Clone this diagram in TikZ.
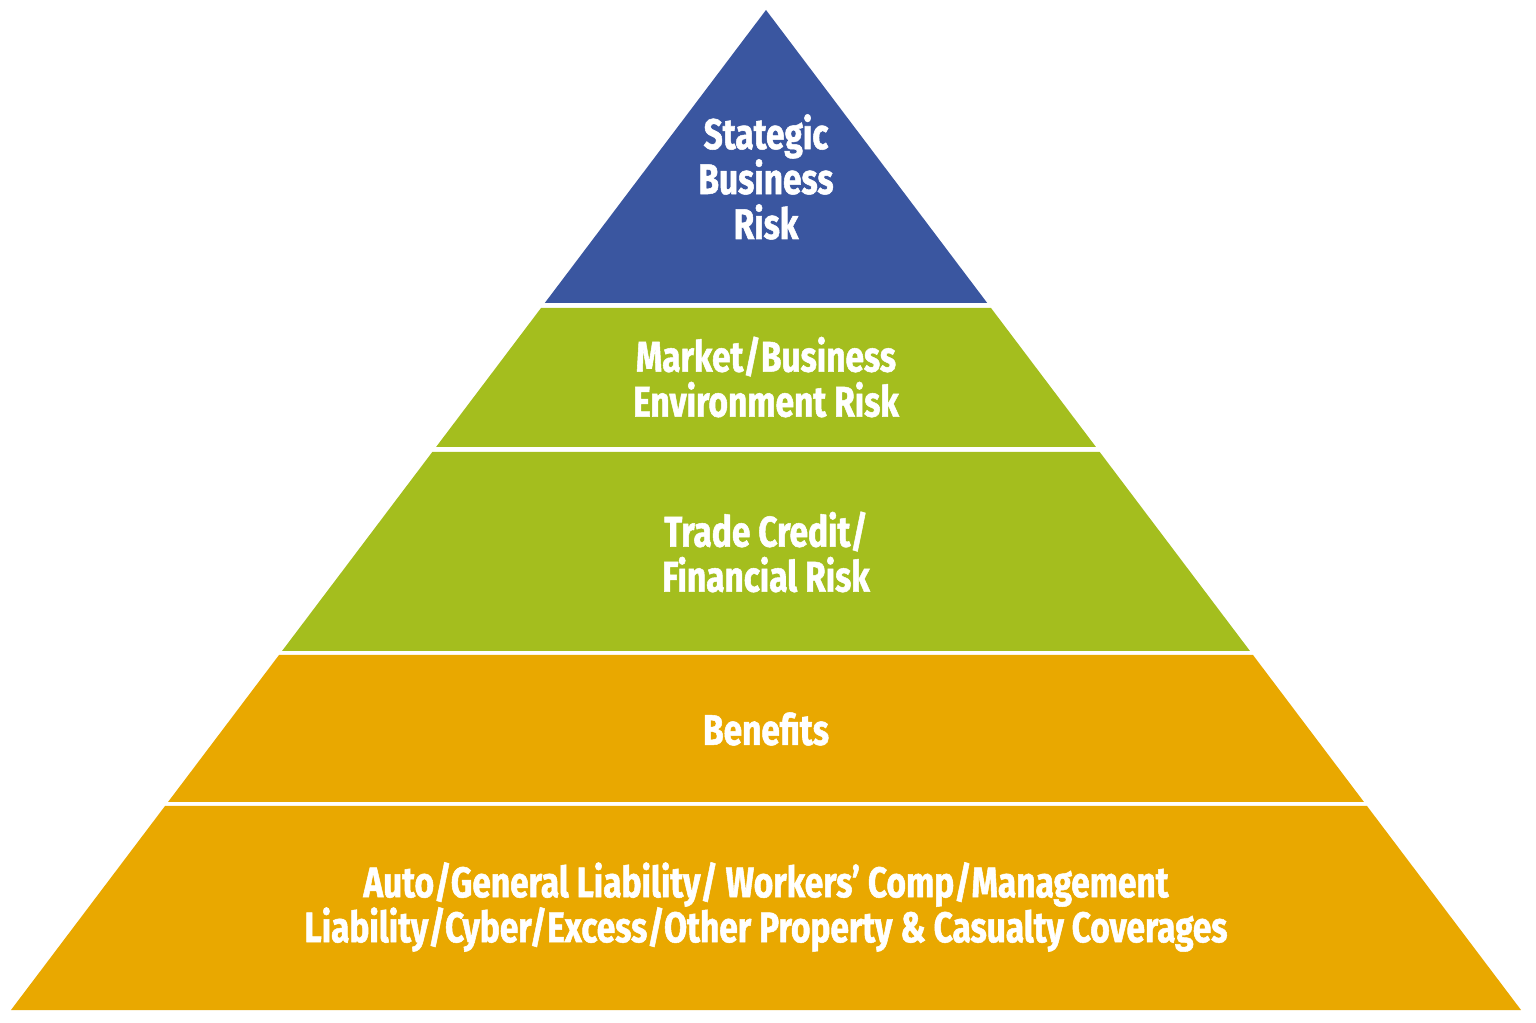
\documentclass[tikz,border=0pt]{standalone}
\usepackage{fontspec}
\setmainfont[FakeStretch=0.78, BoldFeatures={FakeBold=1.2}]{Fira Sans}
\usepackage{tikz}

\definecolor{riskblue}{RGB}{58,86,160}
\definecolor{riskgreen}{RGB}{164,190,30}
\definecolor{riskorange}{RGB}{233,168,0}

\tikzset{
  layer text/.style={text=white, font=\bfseries\fontsize{12.2}{12.8}\selectfont, align=center}
}

\begin{document}
\begin{tikzpicture}
        \useasboundingbox (0,0) rectangle (15.36,10.22);
        \foreach \ytop/\ybot/\col in {10.12/7.19/riskblue, 7.14/5.75/riskgreen, 5.70/3.71/riskgreen, 3.67/2.20/riskorange, 2.16/0.12/riskorange}{
          \pgfmathsetmacro{\wtop}{0.755*(10.12-\ytop)}
          \pgfmathsetmacro{\wbot}{0.755*(10.12-\ybot)}
          \fill[\col] ({7.66-\wtop},\ytop) -- ({7.66+\wtop},\ytop) -- ({7.66+\wbot},\ybot) -- ({7.66-\wbot},\ybot) -- cycle;
        }
        \node[layer text] (strategic) at (7.66,8.45) {Stategic\\Business\\Risk};
        \node[layer text] (market) at (7.66,6.45) {Market/Business\\Environment Risk};
        \node[layer text] (credit) at (7.66,4.70) {Trade Credit/\\Financial Risk};
        \node[layer text] (benefits) at (7.66,2.93) {Benefits};
        \node[layer text] (coverages) at (7.66,1.15) {Auto/General Liability/ Workers’ Comp/Management\\Liability/Cyber/Excess/Other Property \& Casualty Coverages};
      \end{tikzpicture}
\end{document}
